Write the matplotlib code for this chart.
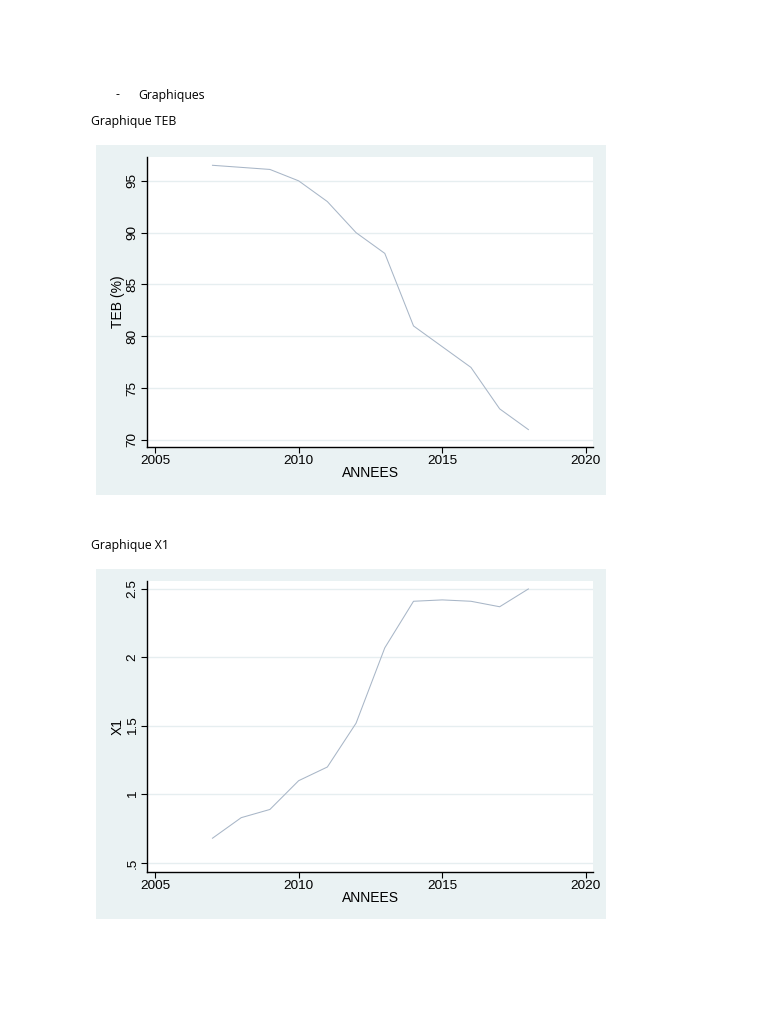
import matplotlib

matplotlib.use("Agg")
import matplotlib.pyplot as plt
from matplotlib.patches import Rectangle

# data
years = [2007, 2008, 2009, 2010, 2011, 2012, 2013, 2014, 2015, 2016, 2017, 2018]
teb = [96.5, 96.3, 96.1, 95.0, 93.0, 90.0, 88.0, 81.0, 79.0, 77.0, 73.0, 71.0]
x1 = [0.68, 0.83, 0.89, 1.10, 1.20, 1.52, 2.07, 2.41, 2.42, 2.41, 2.37, 2.50]

x_ticks = [2005, 2010, 2015, 2020]
teb_ticks = [70, 75, 80, 85, 90, 95]
teb_tick_labels = ["70", "75", "80", "85", "90", "95"]
x1_ticks = [0.5, 1.0, 1.5, 2.0, 2.5]
x1_tick_labels = [".5", "1", "1.5", "2", "2.5"]

W, H = 768, 1024
PANEL = "#eaf2f3"
LINE = "#a8b6c7"
GRID = "#e6eef0"

plt.rcParams["font.family"] = ["Liberation Sans", "DejaVu Sans"]

fig = plt.figure(figsize=(W / 100, H / 100), dpi=100)
fig.patch.set_facecolor("white")


def px_rect(x0, y0, x1_, y1_):
    # figure fraction rect from pixel box (top-left origin)
    return [x0 / W, 1 - y1_ / H, (x1_ - x0) / W, (y1_ - y0) / H]


def add_panel(x0, y0, x1_, y1_):
    l, b, w, h = px_rect(x0, y0, x1_, y1_)
    fig.patches.append(Rectangle((l, b), w, h, transform=fig.transFigure,
                                 facecolor=PANEL, edgecolor="none", zorder=-5))


def line_chart(box, y, yticks, ylabels, ylim, ylabel):
    ax = fig.add_axes(px_rect(*box))
    ax.set_zorder(1)
    ax.set_facecolor("white")
    ax.plot(years, y, color=LINE, lw=0.75)
    ax.set_xlim(2004.72, 2020.25)
    ax.set_ylim(*ylim)
    ax.set_xticks(x_ticks)
    ax.set_yticks(yticks)
    ax.set_yticklabels(ylabels, rotation=90, va="center")
    ax.tick_params(axis="both", labelsize=9.7, length=4, width=0.8, pad=2)
    ax.grid(axis="y", color=GRID, lw=1.0)
    ax.set_axisbelow(True)
    for s in ("top", "right"):
        ax.spines[s].set_visible(False)
    for s in ("left", "bottom"):
        ax.spines[s].set_linewidth(1.0)
    h_px = box[3] - box[1]
    w_px = box[2] - box[0]
    ax.text(0.5, -26 / h_px, "ANNEES", transform=ax.transAxes,
            ha="center", va="center", fontsize=10)
    ax.text(-29 / w_px, 0.5, ylabel, transform=ax.transAxes, rotation=90,
            ha="center", va="center", fontsize=10)
    return ax


# document text
doc_font = ["Open Sans", "DejaVu Sans"]
fig.text(116 / W, 1 - 95 / H, "-", family=doc_font, fontsize=8.8, va="center")
fig.text(138 / W, 1 - 95 / H, "Graphiques", family=doc_font, fontsize=8.8, va="center")
fig.text(91 / W, 1 - 122 / H, "Graphique TEB", family=doc_font, fontsize=8.8, va="center")
fig.text(91 / W, 1 - 546 / H, "Graphique X1", family=doc_font, fontsize=8.8, va="center")

add_panel(96, 145, 606, 495)
add_panel(96, 569, 606, 919)

line_chart((147, 157, 593, 447), teb, teb_ticks, teb_tick_labels, (69.32, 97.3), "TEB (%)")
line_chart((147, 581, 593, 871.5), x1, x1_ticks, x1_tick_labels, (0.437, 2.558), "X1")

fig.savefig("out.png", dpi=100)
